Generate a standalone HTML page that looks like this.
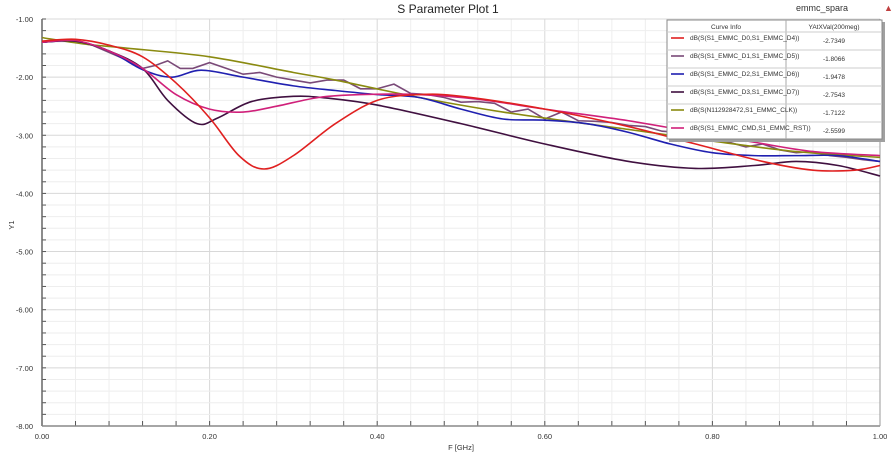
<!DOCTYPE html>
<html><head><meta charset="utf-8"><style>
body{margin:0;background:#fff;width:896px;height:453px;overflow:hidden;font-family:"Liberation Sans",sans-serif}
</style></head><body>
<svg id="s" width="896" height="453" xmlns="http://www.w3.org/2000/svg" font-family="Liberation Sans, sans-serif">
<text x="448" y="13" font-size="12" text-anchor="middle" fill="#222">S Parameter Plot 1</text>
<text x="822" y="11" font-size="9" text-anchor="middle" fill="#333">emmc_spara</text>
<text x="884" y="11" font-size="9" fill="#c04040">▲</text>
<g id="grid"></g>
<g id="curves" fill="none" stroke-width="1.6"></g>
<g id="leg"></g>
</svg>
<script>
const NS="http://www.w3.org/2000/svg";
const X=f=>42+f*838, Y=v=>19+(-1-v)*58.14;
function el(p,t,a,txt){const e=document.createElementNS(NS,t);for(const k in a)e.setAttribute(k,a[k]);if(txt!==undefined)e.textContent=txt;document.getElementById(p).appendChild(e);return e;}
// grid
for(let i=0;i<=25;i++){const x=X(i*0.04);el('grid','line',{x1:x,y1:19,x2:x,y2:426,stroke:i%5==0?'#d8d8d8':'#eeeeee','stroke-width':1});el('grid','line',{x1:x,y1:426,x2:x,y2:421,stroke:'#555'});}
for(let i=0;i<=35;i++){const y=Y(-1-i*0.2);el('grid','line',{x1:42,y1:y,x2:880,y2:y,stroke:i%5==0?'#d8d8d8':'#eeeeee','stroke-width':1});el('grid','line',{x1:42,y1:y,x2:46,y2:y,stroke:'#555'});}
el('grid','line',{x1:42,y1:19,x2:42,y2:426,stroke:'#666','stroke-width':1.5});
el('grid','line',{x1:42,y1:426,x2:880,y2:426,stroke:'#888','stroke-width':1.5});
el('grid','line',{x1:880,y1:19,x2:880,y2:426,stroke:'#999','stroke-width':1});
for(let i=1;i<=8;i++)el('grid','text',{x:33,y:Y(-i)+3,'font-size':7.5,'text-anchor':'end',fill:'#333'},'-'+i+'.00');
for(let i=0;i<=5;i++)el('grid','text',{x:X(i*0.2),y:439,'font-size':7.5,'text-anchor':'middle',fill:'#333'},(i*0.2).toFixed(2));
el('grid','text',{x:X(0.5),y:450,'font-size':7.5,'text-anchor':'middle',fill:'#333'},'F [GHz]');
el('grid','text',{x:14,y:225,'font-size':7.5,'text-anchor':'middle',fill:'#333',transform:'rotate(-90 14 225)'},'Y1');
function smooth(pts){const P=pts.map(p=>[X(p[0]),Y(p[1])]);let d='M'+P[0];for(let i=0;i<P.length-1;i++){const p0=P[Math.max(0,i-1)],p1=P[i],p2=P[i+1],p3=P[Math.min(P.length-1,i+2)];d+=' C'+(p1[0]+(p2[0]-p0[0])/6)+','+(p1[1]+(p2[1]-p0[1])/6)+' '+(p2[0]-(p3[0]-p1[0])/6)+','+(p2[1]-(p3[1]-p1[1])/6)+' '+p2;}return d;}
function lin(pts){return 'M'+pts.map(p=>X(p[0])+','+Y(p[1])).join(' L');}
const curves=[
['#7a4a78',lin([[0,-1.4],[0.03,-1.36],[0.06,-1.45],[0.1,-1.7],[0.12,-1.85],[0.135,-1.8],[0.15,-1.72],[0.165,-1.85],[0.18,-1.85],[0.2,-1.75],[0.22,-1.85],[0.24,-1.95],[0.26,-1.92],[0.28,-2.0],[0.3,-2.05],[0.32,-2.1],[0.34,-2.05],[0.36,-2.05],[0.38,-2.2],[0.4,-2.2],[0.42,-2.12],[0.44,-2.28],[0.46,-2.3],[0.48,-2.35],[0.5,-2.43],[0.52,-2.42],[0.54,-2.45],[0.56,-2.6],[0.58,-2.55],[0.6,-2.72],[0.62,-2.6],[0.64,-2.75],[0.66,-2.76],[0.68,-2.78],[0.7,-2.83],[0.72,-2.85],[0.74,-2.93],[0.76,-2.95],[0.78,-3.05],[0.8,-3.05],[0.82,-3.12],[0.84,-3.2],[0.86,-3.15],[0.88,-3.25],[0.9,-3.3],[0.92,-3.28],[0.94,-3.35],[0.96,-3.38],[0.98,-3.42],[1,-3.45]])],
['#8a8a10',smooth([[0,-1.32],[0.05,-1.43],[0.1,-1.5],[0.2,-1.65],[0.3,-1.92],[0.35,-2.05],[0.45,-2.35],[0.55,-2.6],[0.7,-2.9],[0.8,-3.1],[0.9,-3.28],[1,-3.38]])],
['#2020b0',smooth([[0,-1.4],[0.04,-1.38],[0.08,-1.55],[0.12,-1.87],[0.155,-2.0],[0.19,-1.88],[0.24,-2.0],[0.3,-2.15],[0.35,-2.23],[0.4,-2.3],[0.45,-2.35],[0.5,-2.55],[0.55,-2.72],[0.6,-2.74],[0.65,-2.8],[0.7,-2.95],[0.75,-3.15],[0.8,-3.3],[0.85,-3.35],[0.9,-3.35],[0.95,-3.35],[1,-3.45]])],
['#401040',smooth([[0,-1.4],[0.04,-1.38],[0.08,-1.55],[0.12,-1.85],[0.15,-2.4],[0.185,-2.8],[0.21,-2.7],[0.25,-2.42],[0.3,-2.33],[0.34,-2.36],[0.4,-2.48],[0.5,-2.8],[0.6,-3.15],[0.7,-3.45],[0.78,-3.57],[0.85,-3.52],[0.9,-3.45],[0.95,-3.52],[1,-3.7]])],
['#d0207a',smooth([[0,-1.4],[0.04,-1.37],[0.08,-1.55],[0.12,-1.85],[0.16,-2.3],[0.2,-2.55],[0.24,-2.6],[0.28,-2.5],[0.33,-2.35],[0.38,-2.3],[0.45,-2.3],[0.52,-2.38],[0.6,-2.55],[0.7,-2.75],[0.78,-2.95],[0.85,-3.12],[0.92,-3.28],[1,-3.35]])],
['#e02020',smooth([[0,-1.38],[0.04,-1.35],[0.08,-1.45],[0.12,-1.65],[0.16,-2.1],[0.2,-2.7],[0.235,-3.35],[0.265,-3.58],[0.3,-3.35],[0.35,-2.8],[0.4,-2.4],[0.45,-2.3],[0.5,-2.33],[0.6,-2.55],[0.7,-2.85],[0.78,-3.15],[0.86,-3.45],[0.92,-3.6],[0.97,-3.6],[1,-3.52]])]
];
curves.forEach(c=>el('curves','path',{d:c[1],stroke:c[0]}));
// legend
el('leg','rect',{x:669,y:22,width:216,height:120,fill:'#a0a0a0'});
el('leg','rect',{x:667,y:20,width:215,height:119,fill:'#fff',stroke:'#888'});
el('leg','line',{x1:786,y1:20,x2:786,y2:139,stroke:'#aaa'});
el('leg','text',{x:726,y:29,'font-size':6.5,'text-anchor':'middle',fill:'#333'},'Curve Info');
el('leg','text',{x:834,y:29,'font-size':6.5,'text-anchor':'middle',fill:'#333'},'YAtXVal(200meg)');
const L=[['#e02020','dB(S(S1_EMMC_D0,S1_EMMC_D4))','-2.7349'],['#7a4a78','dB(S(S1_EMMC_D1,S1_EMMC_D5))','-1.8066'],['#2020b0','dB(S(S1_EMMC_D2,S1_EMMC_D6))','-1.9478'],['#401040','dB(S(S1_EMMC_D3,S1_EMMC_D7))','-2.7543'],['#8a8a10','dB(S(N112928472,S1_EMMC_CLK))','-1.7122'],['#d0207a','dB(S(S1_EMMC_CMD,S1_EMMC_RST))','-2.5599']];
L.forEach((r,i)=>{const y=32+i*18;el('leg','line',{x1:667,y1:y,x2:882,y2:y,stroke:'#ccc'});
el('leg','line',{x1:671,y1:y+6,x2:684,y2:y+6,stroke:r[0],'stroke-width':1.6});
el('leg','text',{x:690,y:y+8,'font-size':6.5,fill:'#333'},r[1]);
el('leg','text',{x:834,y:y+11,'font-size':6.5,'text-anchor':'middle',fill:'#333'},r[2]);});
</script>
</body></html>
